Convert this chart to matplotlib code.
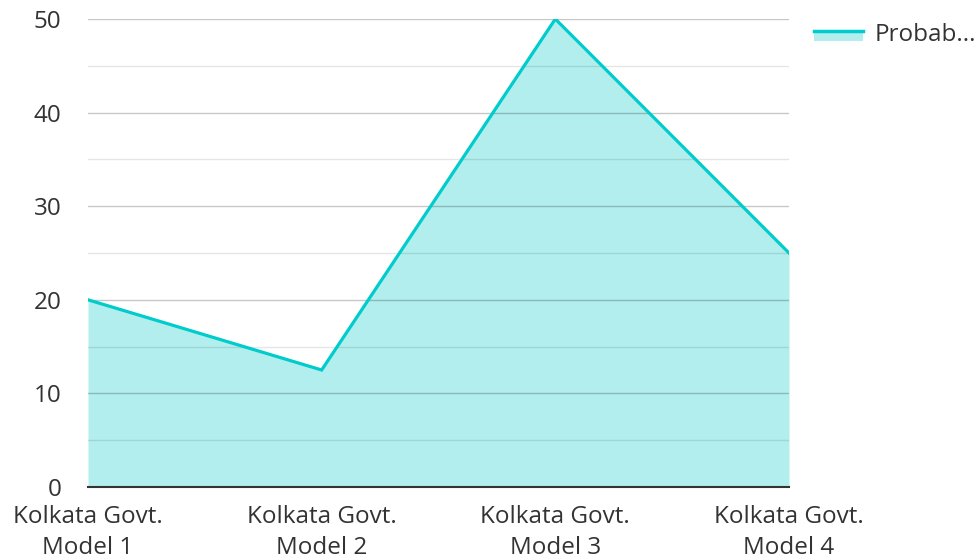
import matplotlib
matplotlib.use("Agg")
import matplotlib.pyplot as plt
from matplotlib.legend_handler import HandlerBase
from matplotlib.patches import Rectangle
from matplotlib.lines import Line2D

plt.rcParams['font.family'] = ['Open Sans', 'DejaVu Sans']

# Data
categories = ["Kolkata Govt.\nModel 1", "Kolkata Govt.\nModel 2",
              "Kolkata Govt.\nModel 3", "Kolkata Govt.\nModel 4"]
values = [20, 12.5, 50, 25]
series_name = "Probab..."

line_color = "#00cccc"
fill_color = "#b2eeee"


class AreaHandler(HandlerBase):
    def create_artists(self, legend, orig_handle, xdescent, ydescent,
                       width, height, fontsize, trans):
        rect = Rectangle((-xdescent, -ydescent), width, height * 0.6,
                         facecolor=fill_color, edgecolor="none", transform=trans)
        ln = Line2D([-xdescent, -xdescent + width],
                    [-ydescent + height * 0.6, -ydescent + height * 0.6],
                    color=line_color, lw=2.5, transform=trans)
        return [rect, ln]


fig = plt.figure(figsize=(9.79, 5.59), dpi=100)
ax = fig.add_axes([88 / 979, 1 - 487 / 559, (789 - 88) / 979, (487 - 19) / 559])

x = list(range(len(categories)))
ax.fill_between(x, values, 0, color=fill_color, lw=0, zorder=1)
ax.plot(x, values, color=line_color, lw=2.3, zorder=3, solid_joinstyle="miter")

# gridlines drawn over the fill
for yv in range(5, 51, 5):
    ax.axhline(yv, color="black", alpha=0.22 if yv % 10 == 0 else 0.1,
               lw=1, zorder=2)

ax.set_xlim(0, len(categories) - 1)
ax.set_ylim(0, 50)
ax.set_yticks(range(0, 51, 10))
ax.set_xticks(x)
ax.set_xticklabels(categories, linespacing=1.4)
ax.tick_params(axis="both", length=0, labelsize=17.5, colors="#333333")
ax.tick_params(axis="y", pad=19)
ax.tick_params(axis="x", pad=13)

for s in ["top", "right", "left"]:
    ax.spines[s].set_visible(False)
ax.spines["bottom"].set_color("#333333")
ax.spines["bottom"].set_linewidth(1.5)
ax.spines["bottom"].set_zorder(4)

handle = Rectangle((0, 0), 1, 1)
fig.legend([handle], [series_name], handler_map={Rectangle: AreaHandler()},
           loc="upper left", bbox_to_anchor=(814 / 979, 1 - 23 / 559),
           frameon=False, fontsize=17.5, handlelength=2.0, handletextpad=0.5,
           borderaxespad=0, borderpad=0, labelcolor="#333333")

fig.savefig("out.png", dpi=100)
